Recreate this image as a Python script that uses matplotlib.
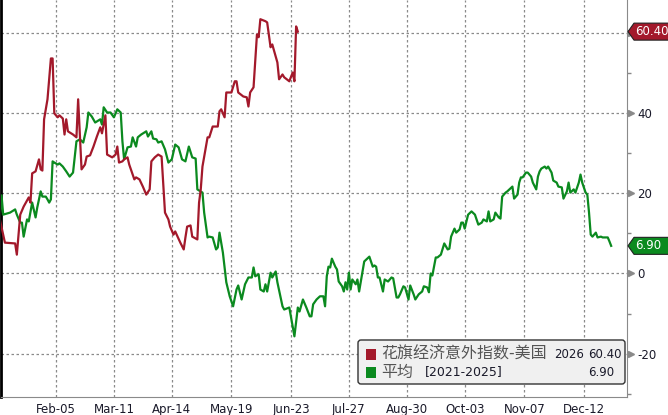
import numpy as np
import pandas as pd
import matplotlib
matplotlib.use('Agg')
import matplotlib.pyplot as plt
from matplotlib.patches import Polygon, FancyBboxPatch, Rectangle
from matplotlib.transforms import IdentityTransform, blended_transform_factory, offset_copy

plt.rcParams['font.family'] = ['DejaVu Sans', 'Noto Sans CJK SC']

# 数据 (day of year, value)
red_day = [3, 6, 12, 13, 15, 17, 20, 21, 22, 24, 26, 27, 28, 29, 31, 33, 34, 35, 37, 38,
           40, 41, 42, 43, 46, 48, 49, 51, 53, 54, 56, 58, 60, 62, 63, 65, 66, 69, 71, 72,
           73, 75, 76, 78, 79, 82, 83, 85, 87, 89, 91, 92, 94, 96, 98, 100, 102, 103, 105, 106,
           109, 111, 112, 113, 115, 116, 119, 120, 121, 122, 125, 126, 128, 131, 132, 133, 135, 136, 139, 141,
           142, 143, 146, 148, 149, 150, 152, 154, 155, 156, 159, 160, 162, 163, 166, 167, 169, 170, 173, 175,
           176, 177, 178]
red_val = [13.5, 7.7, 7.5, 4.7, 14.7, 16.7, 19.0, 17.7, 25.0, 25.5, 28.5, 26.0, 25.7, 38.5, 43.5, 53.7, 53.7, 40.0, 39.0, 39.5,
           38.7, 34.7, 38.5, 35.5, 34.7, 34.0, 43.5, 26.0, 27.2, 29.2, 29.5, 31.7, 34.2, 36.5, 35.0, 39.5, 29.7, 29.0, 29.7, 31.7,
           27.7, 28.0, 28.5, 29.0, 27.2, 23.5, 24.0, 23.5, 21.7, 19.7, 21.0, 28.0, 29.0, 29.7, 29.2, 15.2, 13.5, 11.7, 9.7, 10.5,
           7.7, 6.0, 9.0, 11.7, 12.0, 9.2, 8.5, 17.7, 21.0, 26.7, 34.0, 34.0, 36.7, 36.7, 40.5, 41.0, 39.0, 45.2, 45.2, 48.0,
           48.0, 45.2, 44.2, 44.0, 41.7, 45.2, 46.5, 59.7, 59.0, 63.5, 63.0, 62.7, 56.5, 57.2, 52.7, 48.5, 49.7, 49.0, 48.0, 50.2,
           48.0, 61.7, 60.4]

avg_day = [3, 4, 5, 9, 12, 13, 15, 16, 17, 19, 20, 22, 24, 25, 27, 28, 30, 31, 32, 33,
           34, 35, 37, 38, 40, 42, 44, 46, 47, 48, 50, 52, 54, 55, 57, 59, 62, 63, 64, 66,
           68, 70, 72, 74, 75, 76, 78, 80, 81, 83, 84, 86, 89, 90, 92, 93, 95, 96, 98, 100,
           102, 104, 106, 108, 110, 112, 114, 116, 118, 119, 122, 123, 125, 126, 128, 130, 131, 132, 134, 136,
           138, 140, 142, 143, 145, 147, 149, 151, 152, 153, 155, 156, 158, 159, 160, 162, 163, 165, 166, 169,
           170, 173, 175, 176, 178, 179, 181, 183, 185, 186, 187, 189, 191, 193, 194, 195, 196, 197, 198, 200,
           201, 202, 204, 205, 206, 207, 208, 209, 210, 212, 213, 214, 216, 217, 220, 222, 223, 224, 225, 226,
           228, 229, 231, 233, 234, 236, 237, 238, 240, 241, 243, 244, 246, 247, 249, 251, 252, 254, 255, 256,
           257, 259, 260, 262, 264, 266, 267, 268, 270, 271, 273, 274, 275, 276, 278, 280, 282, 284, 286, 287,
           289, 290, 291, 293, 294, 296, 297, 298, 300, 301, 304, 305, 307, 308, 309, 310, 312, 313, 315, 316,
           318, 319, 320, 321, 323, 324, 325, 327, 328, 330, 331, 333, 334, 336, 337, 338, 340, 341, 343, 344,
           345, 347, 348, 349, 350, 351, 353, 354, 356, 357, 360, 361, 362]
avg_val = [14.0, 19.5, 14.7, 15.2, 16.0, 14.7, 12.7, 12.7, 9.2, 13.5, 13.0, 17.7, 14.0, 16.5, 20.5, 19.2, 19.2, 18.5, 17.7, 18.5,
           28.0, 27.7, 27.2, 27.5, 26.7, 25.5, 24.2, 25.2, 29.0, 33.0, 33.5, 32.7, 36.5, 40.2, 39.2, 37.7, 38.5, 37.2, 41.5, 40.2,
           40.2, 39.0, 41.0, 40.2, 33.0, 28.5, 31.5, 31.7, 34.0, 31.7, 34.0, 34.7, 35.5, 34.2, 35.5, 33.7, 33.5, 32.7, 33.0, 31.0,
           27.7, 28.5, 32.2, 31.5, 28.5, 28.0, 31.7, 29.0, 28.7, 21.0, 20.2, 15.2, 9.0, 9.2, 9.0, 6.0, 6.5, 10.2, 5.2, -2.2,
           -5.7, -8.2, -4.0, -3.0, -6.5, -2.7, -1.0, -1.0, 1.5, -0.7, -0.2, -4.0, -4.5, -2.7, -4.5, 0.2, -1.0, 0.5, -2.2, -8.2,
           -9.0, -8.5, -13.2, -15.7, -8.5, -9.5, -6.5, -8.5, -10.7, -10.7, -7.7, -6.5, -5.7, -5.7, -8.2, -0.7, 1.7, 1.5, 3.7, 1.7,
           1.0, -2.0, -3.2, -4.5, -2.2, -4.0, 0.2, -4.0, -1.5, -2.7, -1.5, -4.5, 0.5, 3.0, 4.2, 1.7, 2.0, 1.7, -1.0, -1.0,
           -4.5, -1.5, -2.0, -1.0, -1.2, -6.0, -6.0, -5.2, -3.2, -3.5, -6.5, -3.0, -5.2, -6.5, -5.2, -4.5, -3.2, -3.5, -4.7, 0.0,
           -0.5, 4.0, 4.0, 4.7, 7.5, 6.0, 6.2, 9.2, 11.2, 10.2, 11.0, 12.7, 12.7, 11.2, 14.7, 15.5, 14.7, 12.2, 12.7, 13.5,
           13.0, 15.5, 13.0, 13.5, 15.2, 14.0, 13.7, 19.2, 20.2, 20.5, 21.7, 18.7, 19.7, 22.7, 24.0, 24.0, 25.2, 25.2, 24.2, 22.7,
           21.0, 24.2, 25.5, 26.2, 26.7, 26.2, 26.7, 25.2, 23.2, 22.7, 21.7, 21.5, 18.7, 20.5, 22.7, 20.2, 21.0, 20.2, 22.7, 24.7,
           22.7, 20.2, 19.7, 15.2, 9.7, 9.2, 10.2, 9.0, 9.2, 9.0, 9.0, 8.0, 6.9]

tick_dates = ['2026-02-05', '2026-03-11', '2026-04-14', '2026-05-19', '2026-06-23',
              '2026-07-27', '2026-08-30', '2026-10-03', '2026-11-07', '2026-12-12']
y_major = [-20, 0, 20, 40, 60]
y_minor = [-30, -10, 10, 30, 50]

red_name = '花旗经济意外指数-美国'
red_year = '2026'
avg_name = '平均'
avg_range = '[2021-2025]'
red_last = red_val[-1]
avg_last = avg_val[-1]

RED = '#a3192b'
GREEN = '#0b8a1f'

start = pd.Timestamp('2026-01-01')
red_x = start + pd.to_timedelta(np.array(red_day) - 1, unit='D')
avg_x = start + pd.to_timedelta(np.array(avg_day) - 1, unit='D')

W, H = 668, 415
fig = plt.figure(figsize=(W / 100, H / 100), dpi=100)
ax = fig.add_axes([1 / W, 18 / H, 626 / W, 397 / H])

ax.plot(avg_x, avg_val, color=GREEN, lw=1.6, zorder=3)
ax.plot(red_x, red_val, color=RED, lw=1.6, zorder=4)

ax.set_xlim(start + pd.Timedelta(days=2.7), start + pd.Timedelta(days=370.3))
ax.set_ylim(-30.85, 68.3)

ticks = pd.to_datetime(tick_dates)
ax.set_xticks(ticks)
ax.set_xticklabels([t.strftime('%b-%d') for t in ticks])
ax.tick_params(axis='x', length=0, pad=4, labelsize=8.5, labelcolor='#1a1a2a')

ax.yaxis.tick_right()
ax.set_yticks(y_major)
ax.set_yticks(y_minor, minor=True)
# 60 的刻度标签被最新值标签盖住
ax.set_yticklabels(['' if v == 60 else str(v) for v in y_major])
ax.tick_params(axis='y', which='major', length=0, pad=7.5, labelsize=8.5, labelcolor='#1a1a2a')
ax.tick_params(axis='y', which='minor', length=3, width=1, color='#888888', direction='out')

ax.grid(True, which='major', color='#8a8a8a', linestyle=(0, (2, 2)), linewidth=0.9)

ax.spines['top'].set_visible(False)
ax.spines['left'].set_color('black')
ax.spines['left'].set_linewidth(2)
ax.spines['right'].set_color('#8a8a8a')
ax.spines['bottom'].set_color('#8a8a8a')

# 右侧三角刻度
tr = offset_copy(blended_transform_factory(ax.transAxes, ax.transData), fig=fig, x=4, y=0, units='dots')
ax.plot([1] * len(y_major), y_major, linestyle='none', marker='>', markersize=5,
        color='#8a8a8a', transform=tr, clip_on=False)

fig.canvas.draw()

# 最新值标签
def tag(val, color):
    y = ax.transData.transform((0, val))[1]
    h = 8.5
    verts = [(628, y), (634, y + h), (672, y + h), (672, y - h), (634, y - h)]
    fig.add_artist(Polygon(verts, closed=True, facecolor=color, edgecolor='#222222',
                           lw=0.8, transform=IdentityTransform(), zorder=5))
    fig.text(635 / W, y / H, f'{val:.2f}', color='white', fontsize=8.5,
             ha='left', va='center', zorder=6)

tag(red_last, RED)
tag(avg_last, GREEN)

# 图例
fig.add_artist(FancyBboxPatch((358, H - 384), 267, 44, boxstyle='round,pad=0,rounding_size=3',
                              facecolor='#f0f0f0', edgecolor='#333333', lw=1,
                              transform=IdentityTransform(), zorder=5))
rows = [(H - 354, RED, red_name, red_year, red_last),
        (H - 372, GREEN, avg_name, avg_range, avg_last)]
for y, c, name, extra, last in rows:
    fig.add_artist(Rectangle((366, y - 5.5), 10, 11, facecolor=c, edgecolor='none',
                             transform=IdentityTransform(), zorder=6))
    fig.text(381 / W, y / H, name, fontsize=11.5, color='#555555', ha='left', va='center',
             family=['Noto Sans CJK SC', 'DejaVu Sans'], zorder=7)
    fig.text(588 / W, y / H, f'{last:.2f}', fontsize=8.5, color='#1a1a2a', ha='left', va='center', zorder=7)
ry, ay = rows[0][0], rows[1][0]
fig.text(554 / W, ry / H, red_year, fontsize=8.5, color='#1a1a2a', ha='left', va='center', zorder=7)
fig.text(425 / W, ay / H, avg_range, fontsize=9, color='#1a1a2a', ha='left', va='center', zorder=7)

fig.savefig('out.png', dpi=100)
